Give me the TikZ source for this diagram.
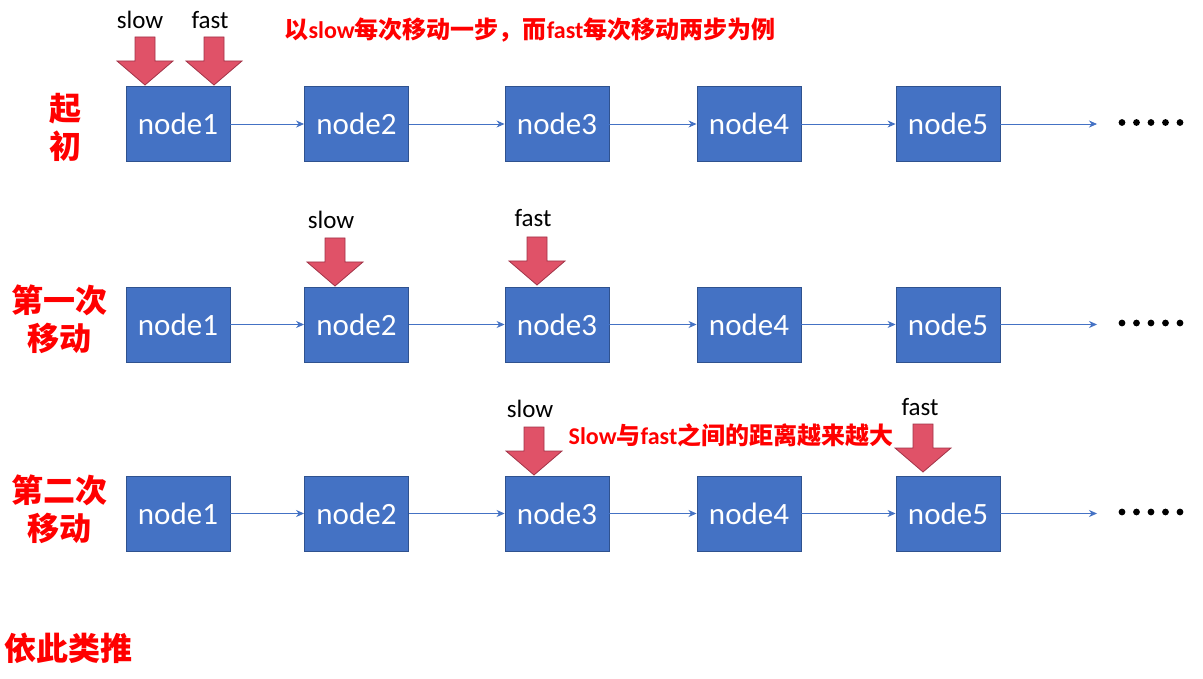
\documentclass[tikz,border=0pt]{standalone}
\usepackage{fontspec}
\setmainfont{Carlito}
\newfontfamily\cjk{Noto Sans CJK SC}
\usetikzlibrary{arrows.meta}
\definecolor{boxfill}{RGB}{68,114,196}
\definecolor{boxline}{RGB}{47,82,143}
\definecolor{arrfill}{RGB}{224,82,104}
\definecolor{arrline}{RGB}{160,50,70}
\newcommand{\zh}[1]{{\cjk\bfseries #1}}
\newcommand{\dnarrow}[2]{%
  \draw[arrline,fill=arrfill,line width=0.8pt]
    (#1-10,#2-48) -- (#1+10,#2-48) -- (#1+10,#2-24) -- (#1+28,#2-24) --
    (#1,#2) -- (#1-28,#2-24) -- (#1-10,#2-24) -- cycle;}
\tikzset{
  lnode/.style={draw=boxline,fill=boxfill,line width=0.9pt,minimum width=104pt,minimum height=75pt,
    inner sep=0pt,text=white,font=\fontsize{31}{31}\selectfont},
  link/.style={draw=boxfill,line width=0.8pt,-{Stealth[length=8pt,width=7pt]}},
  ptr/.style={font=\fontsize{25}{25}\selectfont,text=black,inner sep=0pt},
  redlab/.style={text=red,inner sep=0pt,font=\fontsize{24}{24}\selectfont\bfseries},
  sidelab/.style={text=red,inner sep=0pt,align=center,font=\fontsize{32}{38}\selectfont\cjk\bfseries},
  dots/.style={inner sep=0pt,font=\fontsize{30}{30}\selectfont}
}
\begin{document}
\begin{tikzpicture}[x=1pt,y=-1pt]
\useasboundingbox (0,0) rectangle (1203,679);
% rows
\foreach \r/\y in {a/124,b/324.5,c/513.5}{
  \node[lnode] (\r1) at (178,\y) {node1};
  \node[lnode] (\r2) at (356.5,\y) {node2};
  \node[lnode] (\r3) at (557,\y) {node3};
  \node[lnode] (\r4) at (749,\y) {node4};
  \node[lnode] (\r5) at (948,\y) {node5};
  \coordinate (\r e) at (1097,\y);
  \draw[link] (\r1) -- (\r2);
  \draw[link] (\r2) -- (\r3);
  \draw[link] (\r3) -- (\r4);
  \draw[link] (\r4) -- (\r5);
  \draw[link] (\r5) -- (\r e);
  \foreach \k in {0,1,2,3,4}{
    \fill (1122+\k*14.5,\y-1.5) circle (3.4pt);
  }
}
% pointers
\dnarrow{145}{85}
\dnarrow{214}{85}
\node[ptr] (s1) at (140,20) {slow};
\node[ptr] (f1) at (210,20) {fast};
\dnarrow{335}{286}
\dnarrow{537}{285}
\node[ptr] (s2) at (331,220) {slow};
\node[ptr] (f2) at (533,218) {fast};
\dnarrow{534}{475}
\dnarrow{923}{472}
\node[ptr] (s3) at (530,409) {slow};
\node[ptr] (f3) at (920,407) {fast};
% red labels
\node[redlab] (t1) at (530,30) {\zh{以}slow\zh{每次移动一步，而}fast\zh{每次移动两步为例}};
\node[redlab] (t2) at (731,435) {Slow\zh{与}fast\zh{之间的距离越来越大}};
\node[sidelab] (l1) at (65,127) {起\\初};
\node[sidelab] (l2) at (60,319) {第一次\\移动};
\node[sidelab] (l3) at (60,509) {第二次\\移动};
\node[sidelab,anchor=west] (l4) at (4,648) {依此类推};
\end{tikzpicture}
\end{document}
